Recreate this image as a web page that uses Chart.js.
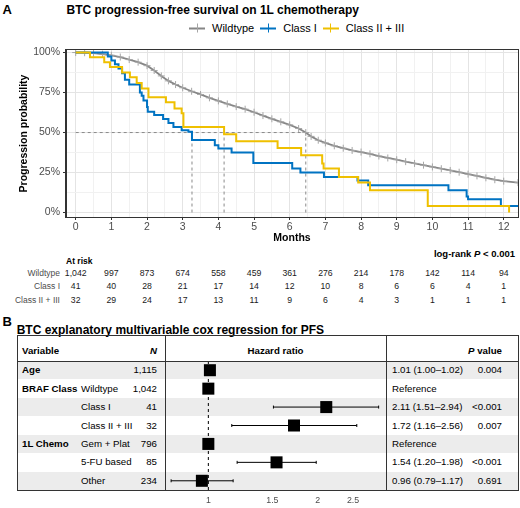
<!DOCTYPE html>
<html>
<head>
<meta charset="utf-8">
<script src="https://cdn.jsdelivr.net/npm/chart.js@4.4.1/dist/chart.umd.min.js"></script>
<style>
  body { margin: 0; background: #fff; }
  #fig { position: relative; width: 520px; height: 508px; overflow: hidden;
         font-family: "Liberation Sans", Arial, Helvetica, sans-serif; color: #000; }
  .t { position: absolute; white-space: nowrap; line-height: 1; }
  canvas { position: absolute; z-index: 2; }
  .shade { position: absolute; background: #ececec; z-index: 0; }
  .rule { position: absolute; background: #333; z-index: 3; }
</style>
</head>
<body>
<div id="fig">
  <canvas id="km" width="520" height="212" style="left:0;top:36px"></canvas>
  <canvas id="forest" width="221" height="147" style="left:165px;top:361px"></canvas>
</div>
<script>
// PANEL A DATA
const groups = ['Wildtype', 'Class I', 'Class II + III'];
const months = [0, 1, 2, 3, 4, 5, 6, 7, 8, 9, 10, 11, 12];
const halfMonths = [0.5, 1.5, 2.5, 3.5, 4.5, 5.5, 6.5, 7.5, 8.5, 9.5, 10.5, 11.5];
const yMajor = [0, 0.25, 0.5, 0.75, 1];
const yMinor = [0.125, 0.375, 0.625, 0.875];

const wildT = [0, 0.25, 0.5, 0.75, 1.0, 1.25, 1.5, 1.75, 2.0, 2.2, 2.4, 2.6, 2.8, 3.0, 3.25, 3.5, 3.75, 4.0,
  4.25, 4.5, 4.75, 5.0, 5.25, 5.5, 5.75, 6.0, 6.25, 6.45, 6.6, 6.8, 7.0, 7.25, 7.5, 7.75, 8.0, 8.25, 8.5,
  8.75, 9.0, 9.25, 9.5, 9.75, 10.0, 10.25, 10.5, 10.75, 11.0, 11.25, 11.5, 11.75, 12.0, 12.4];
const wildP = [1.0, 0.999, 0.996, 0.99, 0.983, 0.972, 0.956, 0.94, 0.918, 0.888, 0.854, 0.823, 0.80, 0.78,
  0.758, 0.738, 0.717, 0.698, 0.679, 0.662, 0.646, 0.627, 0.606, 0.586, 0.567, 0.548, 0.525, 0.50, 0.476,
  0.452, 0.435, 0.417, 0.402, 0.388, 0.378, 0.367, 0.353, 0.341, 0.330, 0.318, 0.307, 0.296, 0.285, 0.274,
  0.263, 0.252, 0.240, 0.229, 0.217, 0.205, 0.196, 0.187];

const class1T = [0, 0.9, 1.0, 1.1, 1.2, 1.3, 1.38, 1.5, 1.8, 1.85, 1.9, 2.0, 2.02, 2.2, 2.45, 2.6, 2.74,
  2.97, 3.16, 3.26, 3.9, 4.0, 4.37, 4.98, 6.07, 6.3, 6.96, 7.9, 8.2, 10.45, 10.96, 11.0, 11.92, 12.4];
const class1P = [1, 0.976, 0.951, 0.927, 0.90, 0.87, 0.83, 0.80, 0.75, 0.73, 0.70, 0.66, 0.63, 0.61,
  0.585, 0.56, 0.535, 0.514, 0.505, 0.453, 0.42, 0.40, 0.375, 0.31, 0.275, 0.25, 0.222, 0.20, 0.17,
  0.14, 0.10, 0.083, 0.041, 0.041];

const class23T = [0, 0.4, 0.8, 0.96, 1.3, 1.52, 1.71, 1.85, 2.04, 2.53, 2.77, 2.97, 3.02, 4.16, 4.5,
  5.66, 6.32, 6.91, 6.95, 7.38, 7.92, 8.25, 9.87, 12.15];
const class23P = [1, 0.97, 0.94, 0.91, 0.875, 0.845, 0.81, 0.775, 0.72, 0.69, 0.65, 0.62, 0.535, 0.49,
  0.446, 0.404, 0.358, 0.306, 0.275, 0.222, 0.187, 0.14, 0.041, 0.0];

const medians = [3.26, 4.16, 6.45];

const riskWild = ['1,042', '997', '873', '674', '558', '459', '361', '276', '214', '178', '142', '114', '94'];
const riskClass1 = ['41', '40', '28', '21', '17', '14', '12', '10', '8', '6', '6', '4', '1'];
const riskClass23 = ['32', '29', '24', '17', '13', '11', '9', '6', '4', '3', '1', '1', '1'];

// PANEL B DATA
const varNames = ['Age', 'BRAF Class', '', '', '1L Chemo', '', ''];
const varLevels = ['', 'Wildtype', 'Class I', 'Class II + III', 'Gem + Plat', '5-FU based', 'Other'];
const nObs = ['1,115', '1,042', '41', '32', '796', '85', '234'];
const hr = [1.01, 1, 2.11, 1.72, 1, 1.54, 0.96];
const hrLo = [1.00, null, 1.51, 1.16, null, 1.20, 0.79];
const hrHi = [1.02, null, 2.94, 2.56, null, 1.98, 1.17];
const hrText = ['1.01 (1.00–1.02)', 'Reference', '2.11 (1.51–2.94)', '1.72 (1.16–2.56)', 'Reference',
  '1.54 (1.20–1.98)', '0.96 (0.79–1.17)'];
const pText = ['0.004', '', '<0.001', '0.007', '', '<0.001', '0.691'];
const forestTicks = [1, 1.5, 2, 2.5];

// STYLE
const FONT = '"Liberation Sans", Arial, Helvetica, sans-serif';
const BLUE = '#0073C2', GOLD = '#EFC000', GREY = '#868686';
const MAJOR = '#e4e4e4', MINOR = '#f1f1f1';
Chart.defaults.font.family = FONT;

const fig = document.getElementById('fig');
function addText(html, x, y, o = {}) {
  const d = document.createElement('div');
  d.className = 't';
  d.innerHTML = html;
  d.style.left = x + 'px';
  d.style.top = y + 'px';
  d.style.fontSize = (o.size || 10) + 'px';
  if (o.bold) d.style.fontWeight = 'bold';
  if (o.color) d.style.color = o.color;
  const ax = o.align === 'right' ? '-100%' : o.align === 'center' ? '-50%' : '0';
  d.style.transform = `translate(${ax}, -50%)`;
  fig.appendChild(d);
  return d;
}
function addBox(cls, x, y, w, h) {
  const d = document.createElement('div');
  d.className = cls;
  Object.assign(d.style, { left: x + 'px', top: y + 'px', width: w + 'px', height: h + 'px' });
  fig.appendChild(d);
}
const pts = (xs, ys) => xs.map((x, i) => ({ x, y: ys[i] }));

// PANEL A: TITLE + LEGEND
addText('A', 2.5, 9, { size: 13, bold: true });
addText('BTC progression-free survival on 1L chemotherapy', 66.5, 9.5, { size: 12, bold: true });

const legend = document.createElement('div');
Object.assign(legend.style, { position: 'absolute', left: '189px', top: '28px', transform: 'translateY(-50%)',
  display: 'flex', alignItems: 'center', fontSize: '11px', lineHeight: '1', whiteSpace: 'nowrap' });
[GREY, BLUE, GOLD].forEach((col, i) => {
  const key = document.createElement('span');
  Object.assign(key.style, { position: 'relative', display: 'inline-block', width: '16px', height: '9px', marginRight: '7px' });
  key.innerHTML = `<span style="position:absolute;left:0;top:3.5px;width:16px;height:2px;background:${col}"></span>` +
    `<span style="position:absolute;left:7.5px;top:0;width:1px;height:9px;background:${i === 0 ? '#a6a6a6' : col}"></span>`;
  const lab = document.createElement('span');
  lab.textContent = groups[i];
  lab.style.marginRight = '6px';
  legend.appendChild(key);
  legend.appendChild(lab);
});
fig.appendChild(legend);

// PANEL A: KAPLAN-MEIER
const xMajorSet = new Set(months);
const yMajorSet = new Set(yMajor);
const dashed = { borderColor: '#8a8a8a', borderWidth: 1, borderDash: [3, 3], pointRadius: 0, showLine: true, order: 4 };

const panelBorder = {
  id: 'panelBorder',
  afterDatasetsDraw(chart) {
    const { ctx, chartArea: a } = chart;
    ctx.save();
    ctx.strokeStyle = '#333';
    ctx.lineWidth = 1;
    ctx.strokeRect(Math.round(a.left) - 0.5, Math.round(a.top) - 0.5, Math.round(a.right - a.left) + 1, Math.round(a.bottom - a.top) + 1);
    ctx.restore();
  }
};

const km = new Chart(document.getElementById('km'), {
  type: 'scatter',
  data: {
    datasets: [
      { label: groups[0], data: pts(wildT, wildP), showLine: true, borderColor: GREY, borderWidth: 1.8,
        pointStyle: 'cross', pointRadius: 3.5, pointBorderColor: '#a6a6a6', pointBorderWidth: 1, order: 3 },
      { label: groups[1], data: pts(class1T, class1P), showLine: true, stepped: 'before', borderColor: BLUE,
        borderWidth: 2, pointRadius: 0, order: 2 },
      { label: groups[2], data: pts(class23T, class23P), showLine: true, stepped: 'before', borderColor: GOLD,
        borderWidth: 2, pointRadius: 0, order: 1 },
      { ...dashed, data: [{ x: 0, y: 0.5 }, { x: Math.max(...medians), y: 0.5 }] },
      ...medians.map(m => ({ ...dashed, data: [{ x: m, y: 0 }, { x: m, y: 0.5 }] }))
    ]
  },
  options: {
    responsive: false,
    animation: false,
    events: [],
    layout: { autoPadding: false, padding: { top: 14, right: 2, left: 0, bottom: 0 } },
    plugins: { legend: { display: false }, tooltip: { enabled: false } },
    scales: {
      x: {
        type: 'linear', min: -0.272, max: 12.40,
        afterBuildTicks: s => { s.ticks = [...months, ...halfMonths].sort((a, b) => a - b).map(v => ({ value: v })); },
        afterFit: s => { s.height = 31; },
        grid: {
          color: c => (c.tick && xMajorSet.has(c.tick.value)) ? MAJOR : MINOR,
          tickColor: c => (c.tick && xMajorSet.has(c.tick.value)) ? '#333' : 'rgba(0,0,0,0)',
          tickLength: 3, lineWidth: 1
        },
        border: { display: true, color: '#333', width: 1 },
        ticks: { autoSkip: false, maxRotation: 0, padding: 1, color: '#4d4d4d', font: { size: 10.5 },
          callback: v => xMajorSet.has(v) ? String(v) : '' },
        title: { display: true, text: 'Months', color: '#000', font: { size: 10.5, weight: 'bold' },
          padding: { top: 0, bottom: 4 } }
      },
      y: {
        type: 'linear', min: -0.028, max: 1.016,
        afterBuildTicks: s => { s.ticks = [...yMajor, ...yMinor].sort((a, b) => a - b).map(v => ({ value: v })); },
        afterFit: s => { s.width = 66; },
        grid: {
          color: c => (c.tick && yMajorSet.has(c.tick.value)) ? MAJOR : MINOR,
          tickColor: c => (c.tick && yMajorSet.has(c.tick.value)) ? '#333' : 'rgba(0,0,0,0)',
          tickLength: 3, lineWidth: 1
        },
        border: { display: true, color: '#333', width: 1 },
        ticks: { autoSkip: false, padding: 3, color: '#4d4d4d', font: { size: 10.5 },
          callback: v => yMajorSet.has(v) ? Math.round(v * 100) + '%' : '' },
        title: { display: true, text: 'Progression probability', color: '#000', font: { size: 10.5, weight: 'bold' },
          padding: { top: 17.7, bottom: 0 } }
      }
    }
  },
  plugins: [panelBorder]
});

// RISK TABLE (columns placed with the chart's own x scale)
const kmLeft = 0;
addText('At risk', 66, 260.7, { size: 8.5, bold: true });
addText('log-rank <i>P</i> &lt; 0.001', 515, 254.3, { size: 9.5, bold: true, align: 'right' });
const riskRows = [riskWild, riskClass1, riskClass23];
const riskY = [272.5, 286, 299.5];
riskRows.forEach((row, r) => {
  addText(groups[r], 60, riskY[r], { size: 8.5, align: 'right', color: '#4d4d4d' });
  row.forEach((val, i) => {
    const x = kmLeft + km.scales.x.getPixelForValue(months[i]);
    addText(val, x, riskY[r], { size: 8.7, align: 'center', color: '#1a1a1a' });
  });
});

// PANEL B: TITLE + TABLE
addText('B', 2.5, 321, { size: 13, bold: true });
addText('BTC explanatory multivariable cox regression for PFS', 16.7, 329.5, { size: 12, bold: true });

const tblL = 17, tblR = 518.5, tblT = 335, headB = 361, rowH = 129 / 7;
const colA = 165, colB = 386;
const tblB = headB + rowH * 7;
hr.forEach((v, i) => { if (i % 2 === 0) addBox('shade', tblL, headB + i * rowH, tblR - tblL, rowH); });
addBox('rule', tblL - 0.5, tblT - 0.5, tblR - tblL + 1, 1);
addBox('rule', tblL - 0.5, tblB - 0.5, tblR - tblL + 1, 1);
addBox('rule', tblL - 0.5, headB - 0.5, tblR - tblL + 1, 1);
addBox('rule', tblL - 0.5, tblT - 0.5, 1, tblB - tblT + 1);
addBox('rule', tblR - 0.5, tblT - 0.5, 1, tblB - tblT + 1);
addBox('rule', colA - 0.5, tblT - 0.5, 1, tblB - tblT + 1);
addBox('rule', colB - 0.5, tblT - 0.5, 1, tblB - tblT + 1);

const FS = 9.7;
const headY = 351;
addText('Variable', 22, headY, { size: FS, bold: true });
addText('<i>N</i>', 157, headY, { size: FS, bold: true, align: 'right' });
addText('Hazard ratio', (colA + colB) / 2, headY, { size: FS, bold: true, align: 'center' });
addText('<i>P</i> value', 502, headY, { size: FS, bold: true, align: 'right' });
hr.forEach((v, i) => {
  const y = headB + (i + 0.5) * rowH;
  if (varNames[i]) addText(varNames[i], 22, y, { size: FS, bold: true });
  if (varLevels[i]) addText(varLevels[i], 81, y, { size: FS });
  addText(nObs[i], 157, y, { size: FS, align: 'right' });
  addText(hrText[i], 392, y, { size: FS });
  if (pText[i]) addText(pText[i].replace('<', '&lt;'), 502, y, { size: FS, align: 'right' });
});

// FOREST PLOT
const rows = hr.map((v, i) => i + 1);
const ciSets = [];
hr.forEach((v, i) => {
  if (hrLo[i] === null) return;
  ciSets.push({ data: [{ x: hrLo[i], y: rows[i] }, { x: hrHi[i], y: rows[i] }], showLine: true,
    borderColor: '#000', borderWidth: 1, pointStyle: 'line', rotation: 90, pointRadius: 1.5,
    pointBorderColor: '#000', pointBorderWidth: 1, order: 1 });
});

new Chart(document.getElementById('forest'), {
  type: 'scatter',
  data: {
    datasets: [
      { data: hr.map((v, i) => ({ x: v, y: rows[i] })), pointStyle: 'rect', pointRadius: 8.5,
        backgroundColor: '#000', borderColor: '#000', borderWidth: 0, order: 0 },
      ...ciSets,
      { data: [{ x: 1, y: 0.5 }, { x: 1, y: 7.5 }], showLine: true, borderColor: '#000', borderWidth: 1,
        borderDash: [3, 3], pointRadius: 0, order: 2 }
    ]
  },
  options: {
    responsive: false,
    animation: false,
    events: [],
    layout: { autoPadding: false, padding: 0 },
    plugins: { legend: { display: false }, tooltip: { enabled: false } },
    scales: {
      x: {
        type: 'logarithmic', min: 0.76, max: 3.08,
        afterBuildTicks: s => { s.ticks = forestTicks.map(v => ({ value: v })); },
        afterFit: s => { s.height = 18; },
        grid: { display: false, drawTicks: false },
        border: { display: false },
        ticks: { autoSkip: false, maxRotation: 0, padding: 5, color: '#4d4d4d', font: { size: 8.8 },
          callback: v => String(v) }
      },
      y: { type: 'linear', min: 0.5, max: 7.5, reverse: true, display: false }
    }
  }
});
</script>
</body>
</html>
